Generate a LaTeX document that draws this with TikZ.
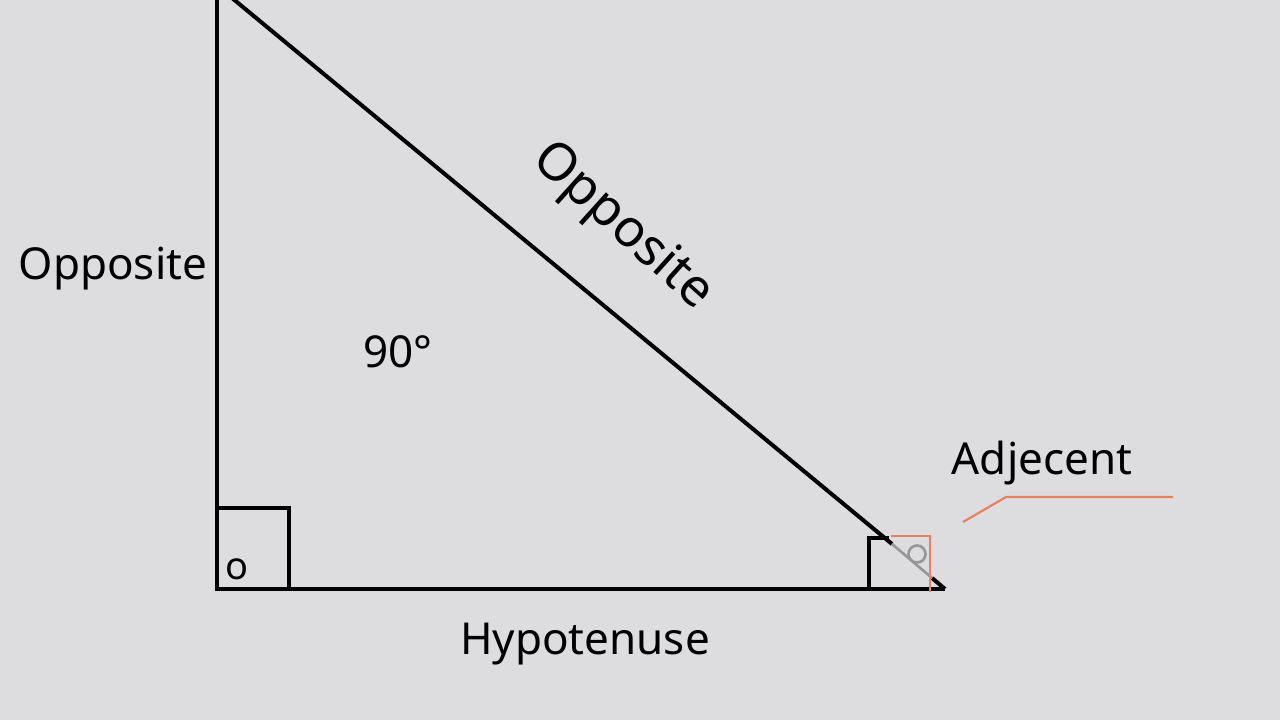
\documentclass[tikz,border=0pt]{standalone}
\usepackage{fontspec}
\setmainfont{Noto Sans}
\definecolor{bgcol}{RGB}{221,221,223}
\definecolor{markcol}{RGB}{232,128,98}
\definecolor{loopcol}{RGB}{150,150,152}
\tikzset{
  side/.style={line width=2bp,black},
  lbl/.style={font=\fontsize{22bp}{26bp}\selectfont,inner sep=0pt},
  biglbl/.style={font=\fontsize{26bp}{30bp}\selectfont,inner sep=0pt},
  lead/.style={line width=1.1bp,markcol},
}
\begin{document}
\begin{tikzpicture}[x=0.5bp,y=-0.5bp,line join=miter]
  \fill[bgcol] (0,0) rectangle (1280,720);
  \useasboundingbox (0,0) rectangle (1280,720);
%%
  % Node: corners
  \coordinate (Top) at (217,-2);
  \coordinate (Hyp) at (232,-2);
  \coordinate (Left) at (217,589);
  \coordinate (Right) at (945,589);
  \coordinate (Kink) at (892,544);
  \coordinate (Gap) at (932,578);
  % Edge: Top -> Left
  \draw [side] (Top) -- (Left) -- (Right);
  % Edge: Hyp -> Kink
  \draw [side] (Hyp) -- (Kink);
  \draw [side] (Gap) -- (Right);
  % Edge: Kink -> Gap
  \draw [line width=1.3bp,loopcol] (Kink) -- (Gap);
  \draw [line width=1.3bp,loopcol] (917,554) circle (8.5);
  % Node: right angle box
  \draw [side] (217,508) -- (289,508) -- (289,589);
  \draw [side] (869,589) -- (869,538) -- (889,538);
  \draw [lead] (891,536) -- (930,536) -- (930,592);
  % Edge: Adjecent leader
  \coordinate (LeadA) at (963,522);
  \coordinate (LeadB) at (1006,497);
  \coordinate (LeadC) at (1173,497);
  \draw [lead] (LeadA) -- (LeadB) -- (LeadC);
  % Node: labels
  \node [lbl,font=\fontsize{19bp}{22bp}\selectfont] (circ) at (237,569) {o};
  \node [lbl] (oppL) at (113,269) {Opposite};
  \node [biglbl,rotate=-42] (oppD) at (622,227) {Opposite};
  \node [lbl] (deg) at (398,352) {90°};
  \node [lbl] (adj) at (1042,463) {Adjecent};
  \node [lbl] (hyp) at (585,644) {Hypotenuse};
%
\end{tikzpicture}
\end{document}
